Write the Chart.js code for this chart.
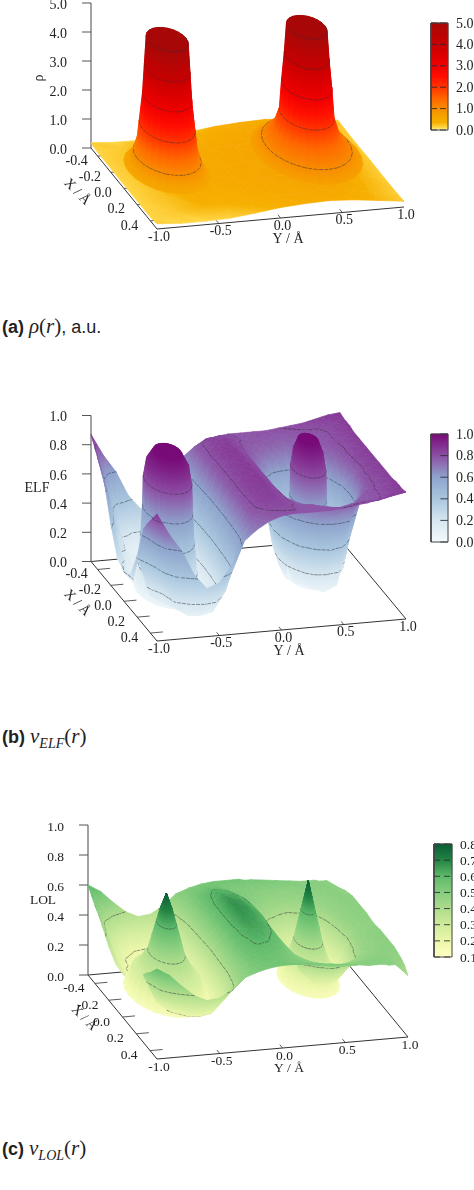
<!DOCTYPE html>
<html>
<head>
<meta charset="utf-8">
<script src="https://cdn.jsdelivr.net/npm/chart.js@4/dist/chart.umd.min.js"></script>
<style>
  html, body { margin: 0; padding: 0; background: #fff; }
  body { position: relative; width: 474px; height: 1190px; overflow: hidden; }
  canvas { position: absolute; left: 0; }
  .cap { position: absolute; left: 2px; font: 18px "Liberation Sans", sans-serif; color: #222; white-space: nowrap; }
  .cap b { font-weight: bold; }
  .cap i, .cap span { font-family: "Liberation Serif", serif; font-size: 21px; }
  .cap sub { font-size: 14px; font-family: "Liberation Serif", serif; font-style: italic; }
</style>
</head>
<body>
<canvas id="rhoChart" style="top:0"></canvas>
<canvas id="elfChart" style="top:400px"></canvas>
<canvas id="lolChart" style="top:810px"></canvas>
<div class="cap" style="top:314px"><b>(a)</b> <i>ρ</i><span>(</span><i>r</i><span>)</span>, a.u.</div>
<div class="cap" style="top:724px"><b>(b)</b> <i>ν</i><sub>ELF</sub><span>(</span><i>r</i><span>)</span></div>
<div class="cap" style="top:1136px"><b>(c)</b> <i>ν</i><sub>LOL</sub><span>(</span><i>r</i><span>)</span></div>
<script>
// tick labels
const zTicksRho = [0, 1, 2, 3, 4, 5];
const zTicksUnit = [0, 0.2, 0.4, 0.6, 0.8, 1];
const barTicksLol = [0.1, 0.2, 0.3, 0.4, 0.5, 0.6, 0.7, 0.8];
const xTicks = [-0.4, -0.2, 0, 0.2, 0.4];
const yTicks = [-1, -0.5, 0, 0.5, 1];

// where the two nuclei sit on the Y axis
const peakYs = [-0.65, 0.48];

// rho(r): heights read along the surface, rows go out from X = 0 to X = 0.5
const rhoYs = [-1, -0.8, -0.6, -0.4, -0.2, 0, 0.2, 0.4, 0.6, 0.8, 1];
const rhoXs = [0, 0.2, 0.4, 0.5];
const rhoRow0 = [0.12, 0.25, 0.5, 0.5, 0.5, 0.55, 0.6, 0.7, 0.65, 0.35, 0.18];
const rhoRow1 = [0.13, 0.25, 0.48, 0.47, 0.5, 0.55, 0.58, 0.65, 0.6, 0.33, 0.17];
const rhoRow2 = [0.13, 0.2, 0.32, 0.34, 0.4, 0.45, 0.5, 0.55, 0.48, 0.3, 0.18];
const rhoRow3 = [0.18, 0.12, 0.12, 0.15, 0.25, 0.36, 0.42, 0.45, 0.4, 0.3, 0.2];
const rhoLeftZ = [0.55, 0.7, 1, 1.4, 2, 3, 4, 5, 5];
const rhoLeftR = [0.31, 0.27, 0.243, 0.215, 0.2, 0.176, 0.163, 0.15, 0];
const rhoRightZ = [0.7, 0.8, 1, 1.4, 2, 3, 4, 5, 5];
const rhoRightR = [0.4, 0.36, 0.325, 0.24, 0.196, 0.18, 0.16, 0.145, 0];

// ELF and LOL share one set of grid lines
const shellYs = [-1, -0.9, -0.8, -0.7, -0.6, -0.5, -0.4, -0.3, -0.2, -0.1, 0, 0.1, 0.15, 0.2, 0.25, 0.3, 0.4, 0.5, 0.6, 0.7, 0.75, 0.8, 0.85, 0.9, 1];
const shellXs = [0, 0.1, 0.2, 0.3, 0.35, 0.4, 0.45, 0.5];

const elfRow0 = [0.2, 0.1, 0.06, 0.04, 0.04, 0.05, 0.08, 0.5, 0.78, 0.84, 0.86, 0.81, 0.64, 0.4, 0.15, 0.06, 0.05, 0.05, 0.05, 0.1, 0.28, 0.55, 0.74, 0.82, 0.85];
const elfRow1 = [0.24, 0.11, 0.07, 0.05, 0.05, 0.05, 0.1, 0.5, 0.78, 0.84, 0.86, 0.81, 0.68, 0.48, 0.23, 0.1, 0.05, 0.05, 0.05, 0.14, 0.34, 0.6, 0.78, 0.82, 0.85];
const elfRow2 = [0.42, 0.14, 0.08, 0.06, 0.06, 0.07, 0.14, 0.52, 0.78, 0.85, 0.86, 0.81, 0.74, 0.66, 0.5, 0.3, 0.1, 0.06, 0.1, 0.4, 0.6, 0.74, 0.79, 0.81, 0.85];
const elfRow3 = [0.66, 0.3, 0.12, 0.08, 0.07, 0.08, 0.18, 0.54, 0.78, 0.84, 0.85, 0.81, 0.78, 0.76, 0.72, 0.66, 0.48, 0.4, 0.48, 0.72, 0.76, 0.79, 0.8, 0.81, 0.85];
const elfRow4 = [0.72, 0.38, 0.14, 0.09, 0.08, 0.09, 0.2, 0.55, 0.78, 0.84, 0.85, 0.81, 0.79, 0.77, 0.76, 0.74, 0.68, 0.64, 0.68, 0.76, 0.78, 0.79, 0.8, 0.82, 0.86];
const elfRow5 = [0.77, 0.46, 0.17, 0.1, 0.09, 0.11, 0.24, 0.57, 0.78, 0.83, 0.83, 0.81, 0.8, 0.78, 0.78, 0.78, 0.76, 0.74, 0.76, 0.78, 0.78, 0.79, 0.8, 0.82, 0.86];
const elfRow6 = [0.82, 0.58, 0.32, 0.2, 0.16, 0.2, 0.34, 0.6, 0.75, 0.8, 0.81, 0.81, 0.79, 0.78, 0.78, 0.78, 0.78, 0.77, 0.79, 0.8, 0.8, 0.8, 0.81, 0.82, 0.86];
const elfRow7 = [0.87, 0.72, 0.6, 0.43, 0.33, 0.36, 0.47, 0.63, 0.7, 0.75, 0.78, 0.79, 0.79, 0.79, 0.79, 0.79, 0.79, 0.8, 0.81, 0.82, 0.83, 0.84, 0.85, 0.86, 0.87];
const elfLeftZ = [0.05, 0.2, 0.4, 0.6, 0.8, 0.92, 1, 1.05];
const elfLeftR = [0.24, 0.21, 0.19, 0.178, 0.172, 0.15, 0.1, 0];
const elfRightZ = [0.05, 0.2, 0.4, 0.6, 0.8, 0.92, 1, 1.03];
const elfRightR = [0.15, 0.14, 0.135, 0.13, 0.125, 0.105, 0.07, 0];

const lolRow0 = [0.29, 0.2, 0.16, 0.14, 0.13, 0.15, 0.2, 0.4, 0.58, 0.68, 0.66, 0.61, 0.52, 0.42, 0.32, 0.2, 0.14, 0.13, 0.14, 0.2, 0.32, 0.43, 0.46, 0.47, 0.48];
const lolRow1 = [0.3, 0.2, 0.16, 0.14, 0.13, 0.15, 0.21, 0.41, 0.58, 0.67, 0.65, 0.6, 0.53, 0.45, 0.37, 0.26, 0.15, 0.14, 0.15, 0.26, 0.37, 0.45, 0.47, 0.48, 0.49];
const lolRow2 = [0.36, 0.22, 0.17, 0.15, 0.14, 0.15, 0.22, 0.42, 0.58, 0.64, 0.63, 0.59, 0.54, 0.47, 0.42, 0.33, 0.24, 0.2, 0.24, 0.33, 0.42, 0.46, 0.47, 0.48, 0.49];
const lolRow3 = [0.45, 0.27, 0.19, 0.16, 0.15, 0.16, 0.25, 0.43, 0.57, 0.61, 0.6, 0.56, 0.52, 0.5, 0.46, 0.44, 0.39, 0.36, 0.39, 0.44, 0.46, 0.47, 0.48, 0.49, 0.49];
const lolRow4 = [0.49, 0.31, 0.22, 0.18, 0.17, 0.18, 0.28, 0.45, 0.56, 0.59, 0.58, 0.54, 0.52, 0.5, 0.49, 0.47, 0.44, 0.42, 0.44, 0.46, 0.47, 0.48, 0.49, 0.49, 0.48];
const lolRow5 = [0.52, 0.36, 0.27, 0.21, 0.2, 0.22, 0.32, 0.46, 0.54, 0.57, 0.56, 0.53, 0.52, 0.51, 0.5, 0.49, 0.47, 0.46, 0.47, 0.48, 0.49, 0.49, 0.49, 0.49, 0.47];
const lolRow6 = [0.56, 0.45, 0.35, 0.28, 0.26, 0.28, 0.36, 0.47, 0.53, 0.55, 0.55, 0.53, 0.52, 0.52, 0.51, 0.5, 0.49, 0.48, 0.49, 0.5, 0.5, 0.5, 0.5, 0.49, 0.45];
const lolRow7 = [0.6, 0.55, 0.47, 0.4, 0.36, 0.37, 0.42, 0.49, 0.52, 0.54, 0.55, 0.55, 0.55, 0.55, 0.54, 0.54, 0.53, 0.52, 0.51, 0.5, 0.5, 0.5, 0.49, 0.49, 0.41];
const lolLeftZ = [0.14, 0.2, 0.27, 0.3, 0.4, 0.5, 0.6, 0.7, 0.8];
const lolLeftR = [0.3, 0.27, 0.24, 0.2, 0.13, 0.1, 0.07, 0.04, 0];
const lolRightZ = [0.14, 0.2, 0.25, 0.3, 0.4, 0.5, 0.6, 0.7, 0.8];
const lolRightR = [0.22, 0.19, 0.17, 0.14, 0.1, 0.075, 0.05, 0.025, 0];

// colour maps: [value, r, g, b]
const rhoColors = [[0, 255, 246, 176], [0.12, 255, 214, 70], [0.35, 246, 176, 0], [0.7, 246, 160, 0], [1, 248, 140, 0], [1.5, 255, 100, 0], [2, 255, 52, 0], [2.5, 255, 14, 0], [3, 240, 0, 0], [4, 200, 0, 0], [5, 168, 8, 8]];
const elfColors = [[0, 244, 250, 252], [0.2, 214, 230, 240], [0.4, 169, 198, 222], [0.6, 142, 163, 204], [0.8, 140, 79, 164], [1, 120, 10, 120]];
const lolColors = [[0.1, 255, 255, 196], [0.2, 236, 247, 170], [0.3, 207, 235, 156], [0.4, 174, 221, 140], [0.5, 134, 205, 126], [0.6, 94, 186, 106], [0.7, 35, 132, 67], [0.8, 10, 92, 56]];

const LINE_DARK = "#333";
const CONTOUR = "rgba(45,45,55,0.7)";
const SERIF = '"Liberation Serif", serif';

function mirrorRows(rows) {
  return rows.slice(1).reverse().concat(rows);
}

function colorAt(map, z) {
  if (z <= map[0][0]) return `rgb(${map[0].slice(1).join(",")})`;
  for (let i = 1; i < map.length; i++) {
    if (z <= map[i][0]) {
      const a = map[i - 1];
      const b = map[i];
      const f = (z - a[0]) / (b[0] - a[0]);
      const c = [1, 2, 3].map((k) => Math.round(a[k] + (b[k] - a[k]) * f));
      return `rgb(${c.join(",")})`;
    }
  }
  return `rgb(${map[map.length - 1].slice(1).join(",")})`;
}

// colour running from z0 at (x0,y0) to z1 at (x1,y1), worked out in canvas pixels
function makeShade(chart, map, s) {
  const solid = colorAt(map, (s.z0 + s.z1) / 2);
  if (!chart.scales.x || s.z0 === s.z1) return solid;
  const x0 = chart.scales.x.getPixelForValue(s.x0);
  const y0 = chart.scales.y.getPixelForValue(s.y0);
  const x1 = chart.scales.x.getPixelForValue(s.x1);
  const y1 = chart.scales.y.getPixelForValue(s.y1);
  if (![x0, y0, x1, y1].every(Number.isFinite)) return solid;
  const g = chart.ctx.createLinearGradient(x0, y0, x1, y1);
  g.addColorStop(0, colorAt(map, s.z0));
  map.forEach((m) => {
    if (m[0] > s.z0 && m[0] < s.z1) g.addColorStop((m[0] - s.z0) / (s.z1 - s.z0), colorAt(map, m[0]));
  });
  g.addColorStop(1, colorAt(map, s.z1));
  return g;
}

function shadeOfTriangle(a, b, c) {
  const low = [a, b, c].reduce((m, p) => (p.z < m.z ? p : m));
  const high = [a, b, c].reduce((m, p) => (p.z > m.z ? p : m));
  const e1x = b.x - a.x, e1y = b.y - a.y, dz1 = b.z - a.z;
  const e2x = c.x - a.x, e2y = c.y - a.y, dz2 = c.z - a.z;
  const det = e1x * e2y - e2x * e1y;
  const mean = (a.z + b.z + c.z) / 3;
  if (Math.abs(det) < 0.01 || high.z - low.z < 0.001) {
    return { x0: a.x, y0: a.y, x1: a.x, y1: a.y, z0: mean, z1: mean };
  }
  const gx = (dz1 * e2y - dz2 * e1y) / det;
  const gy = (dz2 * e1x - dz1 * e2x) / det;
  const k = (high.z - low.z) / (gx * gx + gy * gy);
  return { x0: low.x, y0: low.y, x1: low.x + gx * k, y1: low.y + gy * k, z0: low.z, z1: high.z };
}

function patch(points, shade, map) {
  return {
    data: points.concat([points[0]]).map((p) => ({ x: p.x, y: p.y })),
    showLine: true,
    pointRadius: 0,
    tension: 0,
    fill: "shape",
    borderWidth: 0.7,
    backgroundColor: (ctx) => makeShade(ctx.chart, map, shade),
    borderColor: (ctx) => makeShade(ctx.chart, map, shade),
  };
}

function stroke(points, color, width, dash) {
  return {
    data: points.map((p) => ({ x: p.x, y: p.y })),
    showLine: true,
    pointRadius: 0,
    tension: 0,
    fill: false,
    borderWidth: width,
    borderColor: color,
    borderDash: dash || [],
  };
}

function buildSurface(cfg) {
  const project = (y, x, z) => ({
    x: cfg.ox + cfg.ux * (y + 1) + cfg.tx * (x + 0.5),
    y: cfg.oy + cfg.uy * (y + 1) + cfg.ty * (x + 0.5) - cfg.zs * z,
    z: z,
  });
  const depth = (y, x) => cfg.uy * (y + 1) + cfg.ty * (x + 0.5);
  const xs = cfg.xs.slice(1).reverse().map((v) => -v).concat(cfg.xs);
  const rows = mirrorRows(cfg.rows);
  const items = [];

  const addTriangle = (a, b, c, key) => {
    const list = [patch([a, b, c], shadeOfTriangle(a, b, c), cfg.colors)];
    cfg.contours.forEach((lv) => {
      const cut = [];
      [[a, b], [b, c], [c, a]].forEach(([p, q]) => {
        if ((p.z < lv) !== (q.z < lv)) {
          const f = (lv - p.z) / (q.z - p.z);
          cut.push({ x: p.x + (q.x - p.x) * f, y: p.y + (q.y - p.y) * f });
        }
      });
      if (cut.length === 2) list.push(stroke(cut, CONTOUR, 0.7, [4, 1]));
    });
    items.push({ key: key, list: list });
  };

  for (let i = 0; i < xs.length - 1; i++) {
    for (let j = 0; j < cfg.ys.length - 1; j++) {
      const p00 = project(cfg.ys[j], xs[i], rows[i][j]);
      const p01 = project(cfg.ys[j + 1], xs[i], rows[i][j + 1]);
      const p10 = project(cfg.ys[j], xs[i + 1], rows[i + 1][j]);
      const p11 = project(cfg.ys[j + 1], xs[i + 1], rows[i + 1][j + 1]);
      const my = (cfg.ys[j] + cfg.ys[j + 1]) / 2;
      const key = depth(my, (xs[i] + xs[i + 1]) / 2);
      addTriangle(p00, p01, p11, key);
      addTriangle(p00, p11, p10, key);
    }
  }

  // the two nuclei, swept round their axis from radius-by-height lists
  cfg.peaks.forEach((peak, n) => {
    const cy = peakYs[n];
    const sectors = [];
    const count = 24;
    for (let s = 0; s < count; s++) sectors.push(s);
    const ang = (s) => (s * 2 * Math.PI) / count;
    const at = (lvl, a) => project(cy + peak.r[lvl] * Math.cos(a), peak.r[lvl] * Math.sin(a), peak.z[lvl]);
    sectors.sort((p, q) => {
      const a = ang(p + 0.5), b = ang(q + 0.5);
      return (cfg.ty * Math.sin(a) + cfg.uy * Math.cos(a)) - (cfg.ty * Math.sin(b) + cfg.uy * Math.cos(b));
    });
    const list = [];
    sectors.forEach((s) => {
      const a0 = ang(s), a1 = ang(s + 1);
      for (let l = 0; l < peak.z.length - 1; l++) {
        const b0 = at(l, a0), b1 = at(l, a1), t0 = at(l + 1, a0), t1 = at(l + 1, a1);
        const shade = {
          x0: (b0.x + b1.x) / 2, y0: (b0.y + b1.y) / 2,
          x1: (t0.x + t1.x) / 2, y1: (t0.y + t1.y) / 2,
          z0: peak.z[l], z1: peak.z[l + 1],
        };
        list.push(patch([b0, b1, t1, t0], shade, cfg.colors));
        const back = Math.sin(ang(s + 0.5)) < 0;
        if (cfg.rings.includes(peak.z[l]) && !(back && l >= peak.z.length - 2)) {
          list.push(stroke([b0, b1], CONTOUR, 0.7, [4, 1]));
        }
      }
    });
    items.push({ key: depth(cy, 0) + 81 * peak.r[0], list: list });
  });

  items.sort((p, q) => p.key - q.key);
  const drawn = [];

  // box under the surface
  const corner = (y, x) => project(y, x, 0);
  drawn.push(stroke([corner(-1, -0.5), corner(-1, 0.5), corner(1, 0.5)], LINE_DARK, 1));
  if (cfg.fullBox) drawn.push(stroke([corner(1, 0.5), corner(1, -0.5), corner(-1, -0.5)], LINE_DARK, 1));
  xTicks.forEach((v) => drawn.push(stroke([corner(-1, v), corner(-0.9, v)], LINE_DARK, 0.8)));
  yTicks.slice(1, 4).forEach((v) => drawn.push(stroke([corner(v, 0.5), corner(v, 0.46)], LINE_DARK, 0.8)));
  const top = cfg.zTicks[cfg.zTicks.length - 1];
  const zBase = { x: cfg.ox, y: cfg.oy };
  drawn.push(stroke([zBase, { x: cfg.ox, y: cfg.oy - cfg.zs * top }], "#666", 1.2));
  cfg.zTicks.forEach((v) => {
    const y = cfg.oy - cfg.zs * v;
    drawn.push(stroke([{ x: cfg.ox - 9, y: y }, { x: cfg.ox, y: y }], "#555", 1));
  });

  items.forEach((it) => it.list.forEach((d) => drawn.push(d)));

  // colour bar
  const b = cfg.bar;
  const last = cfg.barTicks[cfg.barTicks.length - 1];
  const first = cfg.barTicks[0];
  const barY = (v) => b.bottom - ((v - first) / (last - first)) * (b.bottom - b.top);
  const rect = [{ x: b.left, y: b.bottom }, { x: b.right, y: b.bottom }, { x: b.right, y: b.top }, { x: b.left, y: b.top }];
  drawn.push(patch(rect, { x0: b.left, y0: b.bottom, x1: b.left, y1: b.top, z0: first, z1: last }, cfg.colors));
  cfg.barTicks.forEach((v) => {
    const from = b.left + (b.right - b.left) * cfg.barTickFrom;
    drawn.push(stroke([{ x: from, y: barY(v) }, { x: b.right, y: barY(v) }], "rgba(40,40,50,0.85)", 1, cfg.barTickDash));
  });
  drawn.push(stroke(rect.concat([rect[0]]), "#444", 1));

  // labels
  const labels = [];
  cfg.zTicks.forEach((v) => labels.push({ text: v.toFixed(1), x: cfg.ox - 24, y: cfg.oy - cfg.zs * v + 2, align: "right" }));
  xTicks.forEach((v) => {
    const p = corner(-1, v);
    labels.push({ text: v.toFixed(1), x: p.x - 21, y: p.y + 5, align: "center" });
  });
  yTicks.forEach((v) => {
    const p = corner(v, 0.5);
    labels.push({ text: v.toFixed(1), x: p.x + 2, y: p.y + 8, align: "center" });
  });
  cfg.barTicks.forEach((v) => labels.push({ text: v.toFixed(1), x: b.right + 8, y: barY(v) + 1, align: "left" }));
  cfg.titles.forEach((t) => labels.push(t));

  return { drawn: drawn, labels: labels };
}

const textPlugin = {
  id: "panelText",
  afterDraw(chart, args, opts) {
    const c = chart.ctx;
    c.save();
    c.fillStyle = "#222";
    c.textBaseline = "middle";
    c.font = `${opts.size}px ${SERIF}`;
    opts.labels.forEach((l) => {
      c.save();
      c.translate(chart.scales.x.getPixelForValue(l.x), chart.scales.y.getPixelForValue(l.y));
      if (l.rot) c.rotate((l.rot * Math.PI) / 180);
      c.textAlign = l.align || "center";
      c.fillText(l.text, 0, 0);
      c.restore();
    });
    c.restore();
  },
};

function drawPanel(id, cfg) {
  const canvas = document.getElementById(id);
  canvas.width = 474;
  canvas.height = cfg.height;
  canvas.style.width = "474px";
  canvas.style.height = cfg.height + "px";
  const built = buildSurface(cfg);
  // Chart.js paints the first dataset last
  const datasets = built.drawn.reverse();
  return new Chart(canvas, {
    type: "scatter",
    data: { datasets: datasets },
    options: {
      responsive: false,
      animation: false,
      events: [],
      clip: false,
      layout: { padding: 0 },
      scales: {
        x: { type: "linear", display: false, min: 0, max: 474 },
        y: { type: "linear", display: false, min: cfg.top, max: cfg.top + cfg.height, reverse: true },
      },
      plugins: {
        legend: { display: false },
        tooltip: { enabled: false },
        panelText: { labels: built.labels, size: cfg.fontSize },
      },
    },
    plugins: [textPlugin],
  });
}

drawPanel("rhoChart", {
  top: 0, height: 300, fontSize: 14,
  ox: 91, oy: 148, ux: 123.5, uy: -11, tx: 66, ty: 81, zs: 29,
  ys: rhoYs, xs: rhoXs,
  rows: [rhoRow0, rhoRow1, rhoRow2, rhoRow3],
  peaks: [{ z: rhoLeftZ, r: rhoLeftR }, { z: rhoRightZ, r: rhoRightR }],
  colors: rhoColors, contours: [], rings: [1, 2, 3, 4, 5],
  zTicks: zTicksRho, barTicks: zTicksRho, fullBox: false,
  bar: { left: 431, right: 448, top: 23, bottom: 130 }, barTickFrom: 0, barTickDash: [6, 3],
  titles: [
    { text: "ρ", x: 39, y: 78, rot: -90 },
    { text: "X / Å", x: 77, y: 192, rot: 45 },
    { text: "Y / Å", x: 288, y: 239 },
  ],
});

drawPanel("elfChart", {
  top: 400, height: 300, fontSize: 14,
  ox: 91, oy: 561.5, ux: 124.5, uy: -11, tx: 66, ty: 79.5, zs: 146,
  ys: shellYs, xs: shellXs,
  rows: [elfRow0, elfRow1, elfRow2, elfRow3, elfRow4, elfRow5, elfRow6, elfRow7],
  peaks: [{ z: elfLeftZ, r: elfLeftR }, { z: elfRightZ, r: elfRightR }],
  colors: elfColors, contours: [0.2, 0.4, 0.6, 0.8], rings: [0.2, 0.4, 0.6, 0.8],
  zTicks: zTicksUnit, barTicks: zTicksUnit, fullBox: true,
  bar: { left: 431, right: 448, top: 434, bottom: 542 }, barTickFrom: 0.55, barTickDash: [],
  titles: [
    { text: "ELF", x: 37, y: 488 },
    { text: "X / Å", x: 77, y: 603, rot: 45 },
    { text: "Y / Å", x: 289, y: 651 },
  ],
});

drawPanel("lolChart", {
  top: 810, height: 300, fontSize: 13.5,
  ox: 88, oy: 975, ux: 125.5, uy: -11, tx: 69, ty: 84, zs: 150,
  ys: shellYs, xs: shellXs,
  rows: [lolRow0, lolRow1, lolRow2, lolRow3, lolRow4, lolRow5, lolRow6, lolRow7],
  peaks: [{ z: lolLeftZ, r: lolLeftR }, { z: lolRightZ, r: lolRightR }],
  colors: lolColors, contours: [0.2, 0.4, 0.6], rings: [0.4, 0.6],
  zTicks: zTicksUnit, barTicks: barTicksLol, fullBox: true,
  bar: { left: 434, right: 452, top: 844, bottom: 957 }, barTickFrom: 0, barTickDash: [6, 4],
  titles: [
    { text: "LOL", x: 43, y: 900 },
    { text: "X / Å", x: 84, y: 1018, rot: 45 },
    { text: "Y / Å", x: 289, y: 1068 },
  ],
});
</script>
</body>
</html>
